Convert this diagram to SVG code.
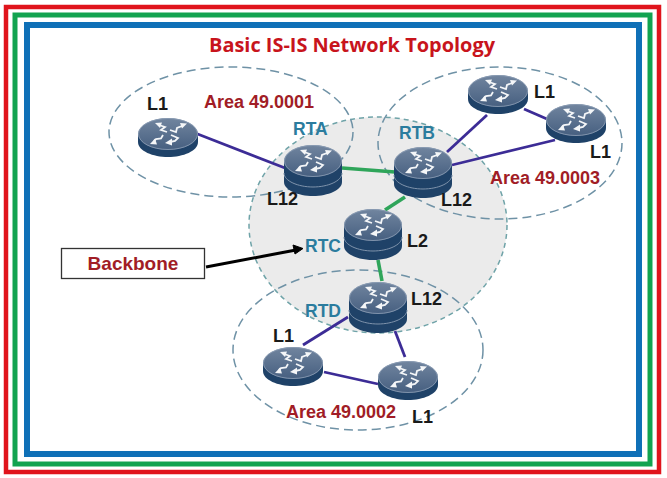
<svg xmlns="http://www.w3.org/2000/svg" xmlns:xlink="http://www.w3.org/1999/xlink" width="667" height="478" viewBox="0 0 667 478">
<style>
text{font-family:"Liberation Sans",Arial,sans-serif;font-weight:700}
.l{font-size:18px;fill:#1a1a1a}
.a{font-size:18px;fill:#a11d26}
.r{font-size:17.500px;fill:#2b7c9e}
.area{fill:none;stroke:#6f92a6;stroke-width:1.500;stroke-dasharray:9 5}
.p{stroke:#3c2c96;stroke-width:2.800;fill:none}
.g{stroke:#2fa55a;stroke-width:3.600;fill:none}
.ar{fill:none;stroke:#f4f6f8;stroke-width:1.800;stroke-linejoin:miter}
.hd{fill:#f4f6f8}
.side{fill:#1f4268}
.edge{fill:none;stroke:#8ea0b6;stroke-width:.8}
</style>
<defs>
<linearGradient id="tg" x1="0" y1="0" x2="0" y2="1"><stop offset="0" stop-color="#71859f"/><stop offset="1" stop-color="#465f80"/></linearGradient>
<g id="glyph">
<path class="ar" d="M-1-1L-7-3L-3-6L-9-8"/><path class="hd" d="M-13-10L-6-10.500L-8-5Z"/>
<path class="ar" d="M2-3L8-1L9-5L14-7"/><path class="hd" d="M19-9.500L12-10L14-4.500Z"/>
<path class="ar" d="M-5 2L-7 5.500L-12 6L-14 8"/><path class="hd" d="M-18 11L-11 11.500L-13 5.500Z"/>
<path class="ar" d="M3 2L10 5L7 8L2 9"/><path class="hd" d="M-3 10L4 5.500L4 12.500Z"/>
</g>
<g id="r1">
<path class="side" d="M-30 0V9C-30 18-15 24 0 24S30 18 30 9V0Z"/>
<ellipse cx="0" cy="1" rx="30" ry="16" fill="url(#tg)"/>
<ellipse cx="0" cy="1" rx="29.500" ry="15.500" class="edge"/>
<use xlink:href="#glyph"/>
</g>
<g id="r2">
<path class="side" d="M-29 0V22C-29 30-15 36 0 36S29 30 29 22V0Z"/>
<path d="M-29 13C-29 21-15 27 0 27S29 21 29 13" fill="none" stroke="#7f93ab" stroke-width="1"/>
<ellipse cx="0" cy="1" rx="29" ry="16" fill="url(#tg)"/>
<ellipse cx="0" cy="1" rx="28.500" ry="15.500" class="edge"/>
<use xlink:href="#glyph"/>
</g>
</defs>
<rect width="667" height="478" fill="#fff"/>
<g id="frame" fill="none">
<rect x="6" y="7" width="653" height="465" stroke="#e0141c" stroke-width="4.500"/>
<rect x="15" y="15" width="635" height="449" stroke="#12a350" stroke-width="5"/>
<rect x="27" y="25" width="612" height="429" stroke="#0f70b7" stroke-width="6"/>
</g>
<text x="352" y="52" text-anchor="middle" font-size="20" fill="#c8141c" style="font-family:'Open Sans','Liberation Sans',sans-serif" textLength="286" lengthAdjust="spacingAndGlyphs">Basic IS-IS Network Topology</text>
<g id="areas">
<ellipse id="backbone-area" cx="378" cy="225" rx="129" ry="108" fill="#ebebeb" stroke="#6fa3a8" stroke-width="1.500" stroke-dasharray="5 4"/>
<ellipse class="area" cx="231" cy="132" rx="122" ry="65"/>
<ellipse class="area" cx="500" cy="143" rx="122" ry="76"/>
<ellipse class="area" cx="358" cy="350" rx="125" ry="80"/>
</g>
<g id="connectors">
<path class="p" d="M195 133L285 168"/>
<path class="p" d="M447 152L487 115"/>
<path class="p" d="M524 109L547 119"/>
<path class="p" d="M452 165L555 140"/>
<path class="p" d="M348 317L303 345"/>
<path class="p" d="M395 331L405 357"/>
<path class="p" d="M324 372L378 384"/>
<path class="g" d="M342 168L395 172"/>
<path class="g" d="M405 197L385 210"/>
<path class="g" d="M378 260L382 281"/>
<path d="M206 267L296 250" stroke="#000" stroke-width="3" fill="none"/>
<path d="M303 248.500L293 245L295 254Z" fill="#000" stroke="#000"/>
</g>
<g id="backbone-label">
<rect x="61.500" y="248.500" width="143" height="30" fill="#fff" stroke="#333" stroke-width="1.300"/>
<text x="133" y="270" text-anchor="middle" font-size="19" fill="#a11d26">Backbone</text>
</g>
<g id="L1-A"><use xlink:href="#r1" x="168" y="133"/><text class="l" x="147" y="110">L1</text></g>
<g id="RTA"><use xlink:href="#r2" x="313" y="160"/><text class="r" x="293" y="135">RTA</text><text class="l" x="267" y="205">L12</text></g>
<g id="RTB"><use xlink:href="#r2" x="423" y="162"/><text class="r" x="399" y="139">RTB</text><text class="l" x="441" y="206">L12</text></g>
<g id="L1-B1"><use xlink:href="#r1" x="498" y="90"/><text class="l" x="534" y="98">L1</text></g>
<g id="L1-B2"><use xlink:href="#r1" x="576" y="119"/><text class="l" x="590" y="158">L1</text></g>
<g id="RTC"><use xlink:href="#r2" x="373" y="224"/><text class="r" x="305" y="252">RTC</text><text class="l" x="407" y="247">L2</text></g>
<g id="RTD"><use xlink:href="#r2" x="378" y="297"/><text class="r" x="305" y="317">RTD</text><text class="l" x="411" y="305">L12</text></g>
<g id="L1-D1"><use xlink:href="#r1" x="293" y="362"/><text class="l" x="273" y="342">L1</text></g>
<g id="L1-D2"><use xlink:href="#r1" x="408" y="376"/><text class="l" x="412" y="423">L1</text></g>
<text class="a" x="204" y="108">Area 49.0001</text>
<text class="a" x="490" y="184">Area 49.0003</text>
<text class="a" x="286" y="418">Area 49.0002</text>
</svg>
